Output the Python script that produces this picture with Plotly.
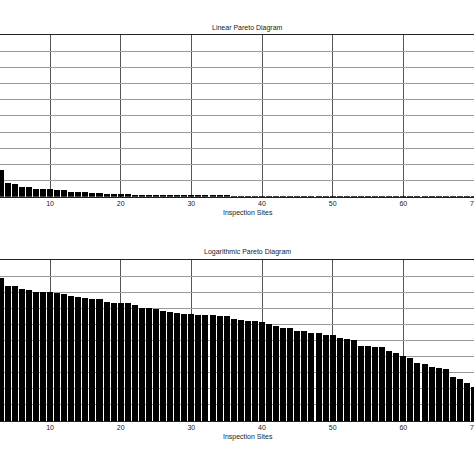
import plotly.graph_objects as go

# Inspection site indices visible in the picture
sites = list(range(3, 71))

# Linear Pareto values (counts, arbitrary units; 100 = one grid interval)
linear_counts = [165, 83, 79, 62, 58, 50, 50, 46, 40, 40,
                 31, 29, 27, 25, 21, 19, 17, 17, 15, 12,
                 12, 9, 9, 8, 8, 7, 7, 7, 6, 6,
                 6, 5, 5, 4, 4, 4, 3, 3, 3, 3,
                 3, 3, 3, 2, 2, 2, 2, 2, 2, 2,
                 2, 2, 2, 2, 2, 2, 2, 1, 1, 1,
                 1, 1, 1, 1, 1, 1, 1, 1]

# Logarithmic Pareto values (log units; 1 = one grid interval)
log_values = [8.88, 8.39, 8.39, 8.18, 8.14, 8.04, 8.03, 8.01, 7.93, 7.89,
              7.75, 7.72, 7.62, 7.60, 7.56, 7.42, 7.36, 7.32, 7.30, 7.19,
              7.04, 7.00, 6.94, 6.81, 6.79, 6.73, 6.65, 6.65, 6.58, 6.57,
              6.57, 6.52, 6.50, 6.34, 6.27, 6.23, 6.23, 6.17, 6.04, 5.88,
              5.76, 5.76, 5.61, 5.57, 5.47, 5.47, 5.36, 5.36, 5.16, 5.11,
              5.03, 4.68, 4.63, 4.61, 4.58, 4.37, 4.20, 4.06, 3.89, 3.58,
              3.54, 3.37, 3.27, 3.21, 2.71, 2.58, 2.34, 2.13]

x_ticks = [10, 20, 30, 40, 50, 60, 70]
titles = ["Linear Pareto Diagram", "Logarithmic Pareto Diagram"]
x_label = "Inspection Sites"

W = H = 474
FONT = dict(family="Liberation Sans, Arial, sans-serif", size=7, color="#222")

fig = go.Figure()
fig.add_trace(go.Bar(x=sites, y=linear_counts, marker=dict(color="black", line=dict(width=0)),
                     width=0.85, xaxis="x", yaxis="y", showlegend=False))
fig.add_trace(go.Bar(x=sites, y=log_values, marker=dict(color="black", line=dict(width=0)),
                     width=0.85, xaxis="x2", yaxis="y2", showlegend=False))

def px_dom(top_px, bot_px):
    return [1 - bot_px / H, 1 - top_px / H]

xcommon = dict(range=[2.92, 70.0], tickvals=x_ticks, showgrid=True, gridcolor="#555",
               gridwidth=1, showline=True, linecolor="#222", linewidth=1, mirror=True,
               ticks="", tickfont=FONT, zeroline=False, domain=[0, 1], automargin=False,
               ticklabeloverflow="allow")
ycommon = dict(showgrid=True, gridcolor="#999", gridwidth=1, showticklabels=False,
               zeroline=False, showline=False, ticks="", automargin=False)

fig.update_layout(
    width=W, height=H,
    margin=dict(l=0, r=0, t=0, b=0, pad=0, autoexpand=False),
    paper_bgcolor="white", plot_bgcolor="white",
    bargap=0,
    xaxis=dict(**xcommon, anchor="y"),
    yaxis=dict(**ycommon, range=[0, 1000], dtick=100, domain=px_dom(35, 196.7), anchor="x"),
    xaxis2=dict(**xcommon, anchor="y2"),
    yaxis2=dict(**ycommon, range=[0, 10], dtick=1, domain=px_dom(260, 421), anchor="x2"),
    font=FONT,
)

for title, ty, ly in [(titles[0], 28, 213), (titles[1], 252, 437)]:
    fig.add_annotation(text=title, x=247.5 / W, y=1 - ty / H, xref="paper", yref="paper",
                       showarrow=False, font=FONT, xanchor="center", yanchor="middle")
    fig.add_annotation(text=x_label, x=247.5 / W, y=1 - ly / H, xref="paper", yref="paper",
                       showarrow=False, font=FONT, xanchor="center", yanchor="middle")

fig.write_html("out.html", config={"displayModeBar": False},
               post_script="document.body.style.margin='0';document.body.style.overflow='hidden';")
